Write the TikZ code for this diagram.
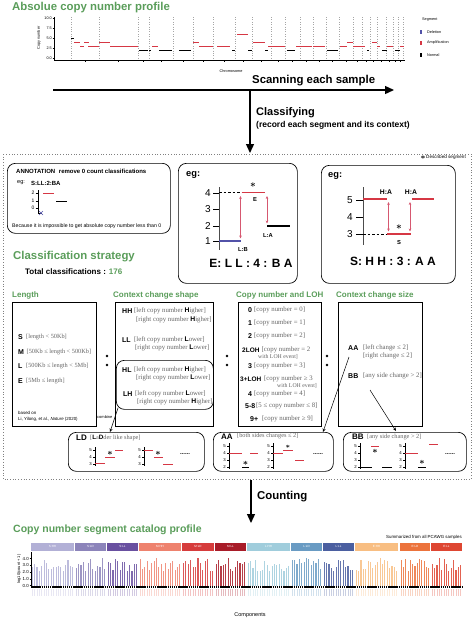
\documentclass[tikz,border=0pt]{standalone}
\usepackage{fontspec}
\setmainfont{Liberation Serif}
\setsansfont{Liberation Sans}
\usetikzlibrary{arrows.meta}
\definecolor{tgreen}{RGB}{90,157,90}
\definecolor{segred}{RGB}{214,55,68}
\definecolor{segblue}{RGB}{82,82,168}
\definecolor{arred}{RGB}{214,88,112}
\definecolor{brgray}{RGB}{100,100,100}
\definecolor{cSH}{RGB}{178,176,214}
\definecolor{cSD}{RGB}{140,132,186}
\definecolor{cSL}{RGB}{105,80,160}
\definecolor{cMH}{RGB}{238,130,110}
\definecolor{cMD}{RGB}{214,60,60}
\definecolor{cML}{RGB}{168,28,40}
\definecolor{cLH}{RGB}{160,205,220}
\definecolor{cLD}{RGB}{105,155,195}
\definecolor{cLL}{RGB}{75,95,160}
\definecolor{cEH}{RGB}{248,190,130}
\definecolor{cED}{RGB}{236,115,60}
\definecolor{cEL}{RGB}{222,70,50}
\newcommand\hb[1]{{\color{black}\sffamily\bfseries #1}}
\newcommand\astm{{\boldmath$\ast$}}
\tikzset{
  ttl/.style={font=\sffamily\bfseries\fontsize{11.4}{13}\selectfont,text=tgreen,anchor=west,inner sep=0pt},
  colhd/.style={font=\sffamily\bfseries\fontsize{8}{9}\selectfont,text=tgreen,anchor=west,inner sep=0pt},
  bigbl/.style={font=\sffamily\bfseries\fontsize{11.4}{13}\selectfont,anchor=west,inner sep=0pt},
  key/.style={font=\sffamily\bfseries\fontsize{7}{8}\selectfont,anchor=west,inner sep=0pt},
  brt/.style={font=\rmfamily\fontsize{6.8}{7}\selectfont,text=brgray,anchor=west,inner sep=0pt},
  brs/.style={font=\rmfamily\fontsize{6.3}{7}\selectfont,text=brgray,anchor=west,inner sep=0pt},
  brc/.style={font=\rmfamily\fontsize{5.8}{7}\selectfont,text=brgray,anchor=west,inner sep=0pt},
  tinyt/.style={font=\sffamily\fontsize{3.8}{4}\selectfont,inner sep=0pt},
  mini/.style={font=\sffamily\fontsize{4.3}{5}\selectfont,inner sep=0pt,anchor=east},
  rbox/.style={draw,rounded corners=8pt,line width=0.7pt,inner sep=0pt},
  sqbox/.style={draw,line width=0.7pt,inner sep=0pt},
  bigarr/.style={line width=1.3pt,-{Triangle[length=9pt,width=8pt]}},
  thinarr/.style={line width=0.5pt,-{Stealth[length=3.5pt,width=3pt]}},
  redarr/.style={arred,line width=0.6pt,{Stealth[length=3pt,width=2.6pt]}-{Stealth[length=3pt,width=2.6pt]}},
  mseg/.style={segred,line width=0.8pt},
  astnode/.style={inner sep=0pt,font=\fontsize{10}{10}\selectfont},
  astmini/.style={inner sep=0pt,font=\fontsize{9}{9}\selectfont},
  egnum/.style={font=\sffamily\fontsize{10}{10}\selectfont,anchor=east,inner sep=0pt},
  smallb/.style={font=\sffamily\bfseries\fontsize{5.8}{6}\selectfont,inner sep=0pt},
  dotsn/.style={font=\sffamily\bfseries\fontsize{6}{6}\selectfont,inner sep=0pt},
}
\begin{document}
\begin{tikzpicture}[x=1pt,y=-1pt]
\useasboundingbox (0,0) rectangle (474,621);

% ---------------- top profile ----------------
\node[ttl] (t1) at (12,8) {Absolue copy number profile};
\foreach \x in {71,99,138,149,173,193,213,235,252,271,285,300,313,326,339,353,362,370,377,386,393,398,403}
  \draw[dotted,gray!70,line width=0.4pt] (\x,17) -- (\x,60);
\draw[line width=0.6pt] (54,17) -- (54,60) -- (405,60);
\foreach \v/\t [count=\k] in {10/10.0,7.5/7.5,5/5.0,2.5/2.5,0/0.0} {
  \draw[line width=0.3pt] (52.5,{58.5-4*\v}) -- (54,{58.5-4*\v});
  \node[tinyt,anchor=east] (ytk\k) at (52,{58.5-4*\v}) {\t};
}
\foreach \x in {85,118,143,161,183,203,224,243,261,278,292,306,319,332,346,357,366,373,381,389,395,400}
  \draw[line width=0.3pt] (\x,60) -- (\x,61.5);
\node[tinyt,rotate=90] (ylab) at (39,38) {Copy number};
\node[tinyt] (xlab) at (231,71) {Chromosome};
\foreach \a/\b/\v/\c in {71/74/5/black,74/80/4/segred,80/84/3/segred,84/89/4/segred,88/99/3/segred,99/110/4/segred,110/138/3/segred,139/148/2/black,149/151/2/black,152/158/3/segred,159/172/2/black,179/191/2/black,193/199/4/segred,199/213/3/segred,217/230/3/segred,232/235/2/black,237/248/6/segred,248/252/2/black,253/265/4/segred,265/268/2/black,268/285/3/segred,287/295/2/black,296/312/3/segred,313/325/3/segred,327/338/2/black,340/347/3/segred,347/353/4/segred,353/365/3/segred,367/369/2/black,372/377/4/segred,377/380/3/segred,382/387/2/black,387/393/3/segred,395/400/2/black,400/404/3/segred}
  \draw[\c,line width=1pt] (\a,{58.5-4*\v}) -- (\b,{58.5-4*\v});
\node[tinyt,anchor=west] (lgT) at (422,20) {Segment};
\draw[segblue,line width=1.3pt] (421,30) -- (421,34);
\draw[segred,line width=1.3pt] (421,41) -- (421,45);
\draw[black,line width=1.3pt] (421,53) -- (421,57);
\node[tinyt,anchor=west] (lgD) at (427,32) {Deletion};
\node[tinyt,anchor=west] (lgA) at (427,43) {Amplification};
\node[tinyt,anchor=west] (lgN) at (427,55) {Normal};

% ---------------- arrows ----------------
\node[bigbl] (scan) at (252,81) {Scanning each sample};
\coordinate (scanL) at (53,90);
\coordinate (scanR) at (394,90);
\draw[bigarr] (scanL) -- (scanR);
\coordinate (clsT) at (250,90);
\coordinate (clsB) at (250,153);
\draw[bigarr] (clsT) -- (clsB);
\node[font=\sffamily\bfseries\fontsize{11}{12}\selectfont,anchor=west,inner sep=0pt] (cls1) at (256,113) {Classifying};
\node[font=\sffamily\bfseries\fontsize{8.5}{9}\selectfont,anchor=west,inner sep=0pt] (cls2) at (256,125) {(record each segment and its context)};

% ---------------- frame ----------------
\draw[dotted,gray,line width=0.7pt] (3,154) rectangle (471,479);
\node[astmini,font=\fontsize{8}{8}\selectfont] (dsst) at (423,157.5) {\astm};
\node[font=\sffamily\fontsize{4.6}{5}\selectfont,anchor=west,inner sep=0pt] (dst) at (426,157.5) {Described segment};

% ---------------- annotation box ----------------
\node[rbox,anchor=north west,minimum width=163pt,minimum height=70pt] (annot) at (7,163) {};
\node[font=\sffamily\bfseries\fontsize{6}{7}\selectfont,anchor=west,inner sep=0pt] (annt) at (16,171) {ANNOTATION\,\, remove 0 count classifications};
\node[font=\sffamily\fontsize{5.5}{6}\selectfont,anchor=west,inner sep=0pt] (anneg) at (17,183) {eg:};
\node[font=\sffamily\bfseries\fontsize{6}{6}\selectfont,anchor=west,inner sep=0pt] (annex) at (31,183) {S:LL:2:BA};
\draw[line width=0.4pt] (38,190) -- (38,213) -- (42,213);
\foreach \t/\y in {2/193,1/201,0/208} {
  \draw[line width=0.4pt] (35.5,\y) -- (38,\y);
  \node[font=\sffamily\fontsize{5}{5}\selectfont,anchor=east,inner sep=0pt] (ann\t) at (34.5,\y) {\t};
}
\draw[segred,line width=0.9pt] (43,193) -- (54,193);
\draw[black,line width=0.9pt] (56,201) -- (67,201);
\draw[segblue,line width=0.5pt] (39,211) -- (43,215) (39,215) -- (43,211);
\node[font=\sffamily\fontsize{5.2}{6}\selectfont,anchor=west,inner sep=0pt] (annb) at (12,226) {Because it is impossible to get absolute copy number less than 0};

% ---------------- eg box 1 ----------------
\node[rbox,anchor=north west,minimum width=119pt,minimum height=120pt] (eg1) at (178,163) {};
\node[font=\sffamily\bfseries\fontsize{9.3}{10}\selectfont,anchor=west,inner sep=0pt] (eg1t) at (186,175) {eg:};
\draw[gray!60!black,line width=0.5pt] (219,187) -- (219,250);
\foreach \v/\y in {4/193,3/209,2/226,1/241} {
  \draw[line width=0.5pt] (213,\y) -- (219,\y);
  \node[egnum] (eg1n\v) at (211,\y) {\v};
}
\draw[dash pattern=on 2.5pt off 2pt,line width=0.6pt] (219,192.5) -- (242,192.5);
\draw[segred,line width=1.7pt] (242,192.5) -- (265,192.5);
\draw[segblue,line width=1.7pt] (219,241) -- (241,241);
\draw[black,line width=1.7pt] (267,226) -- (290,226);
\node[astnode] (eg1s) at (253,185.5) {\astm};
\node[smallb] (eg1E) at (255,199.5) {E};
\node[smallb] (eg1LB) at (243,249.5) {L:B};
\node[smallb] (eg1LA) at (268,236) {L:A};
\coordinate (a1t) at (240.5,196); \coordinate (a1b) at (240.5,238.5);
\coordinate (a2t) at (267,196); \coordinate (a2b) at (267,223.5);
\draw[redarr] (a1t) -- (a1b);
\draw[redarr] (a2t) -- (a2b);
\node[font=\sffamily\bfseries\fontsize{12}{12}\selectfont,inner sep=0pt] (eg1c) at (251,263) {E: L L : 4 : B A};

% ---------------- eg box 2 ----------------
\node[rbox,anchor=north west,minimum width=134pt,minimum height=118pt] (eg2) at (321,165) {};
\node[font=\sffamily\bfseries\fontsize{9.3}{10}\selectfont,anchor=west,inner sep=0pt] (eg2t) at (328,176) {eg:};
\draw[gray!60!black,line width=0.5pt] (363,187) -- (363,245);
\foreach \v/\y in {5/200,4/217,3/234} {
  \draw[line width=0.5pt] (356,\y) -- (363,\y);
  \node[egnum] (eg2n\v) at (353,\y) {\v};
}
\draw[segred,line width=1.7pt] (363,199) -- (387,199);
\draw[segred,line width=1.7pt] (412,199) -- (434,199);
\draw[segred,line width=1.7pt] (387,234) -- (411,234);
\draw[dash pattern=on 2.5pt off 2pt,line width=0.6pt] (363,234) -- (387,234);
\node[font=\sffamily\bfseries\fontsize{6.8}{7}\selectfont,inner sep=0pt] (eg2h1) at (386,192) {H:A};
\node[font=\sffamily\bfseries\fontsize{6.8}{7}\selectfont,inner sep=0pt] (eg2h2) at (411,192) {H:A};
\node[astnode] (eg2s) at (399,227.5) {\astm};
\node[smallb] (eg2S) at (399,243) {S};
\coordinate (b1t) at (388.5,202); \coordinate (b1b) at (388.5,231.5);
\coordinate (b2t) at (410,202); \coordinate (b2b) at (410,231.5);
\draw[redarr] (b1t) -- (b1b);
\draw[redarr] (b2t) -- (b2b);
\node[font=\sffamily\bfseries\fontsize{12}{12}\selectfont,inner sep=0pt] (eg2c) at (393,261) {S: H H : 3 : A A};

% ---------------- strategy ----------------
\node[ttl] (cst) at (13,257) {Classification strategy};
\node[font=\sffamily\bfseries\fontsize{8}{9}\selectfont,anchor=west,inner sep=0pt] (tot) at (25,272) {Total classifications : \textcolor{tgreen}{176}};
\node[colhd] (hLen) at (12,295) {Length};
\node[colhd] (hShp) at (113,295) {Context change shape};
\node[colhd] (hCn) at (236,295) {Copy number and LOH};
\node[colhd] (hSz) at (336,295) {Context change size};

% Length
\node[sqbox,anchor=north west,minimum width=84pt,minimum height=124pt] (lenbox) at (12,302) {};
\node[key] (kS) at (18,337) {S};  \node[brs] (bS) at (26,337) {[length < 50Kb]};
\node[key] (kM) at (18,352) {M};  \node[brs] (bM) at (26.5,352) {[50Kb ≤ length < 500Kb]};
\node[key] (kL) at (18,366) {L};  \node[brs] (bL) at (26,366) {[500Kb ≤ length < 5Mb]};
\node[key] (kE) at (18,381) {E};  \node[brs] (bE) at (26,381) {[5Mb ≤ length]};
\node[font=\sffamily\fontsize{4.4}{5}\selectfont,anchor=west,inner sep=0pt] (ref1) at (18,412.5) {based on};
\node[font=\sffamily\fontsize{4.4}{5}\selectfont,anchor=west,inner sep=0pt] (ref2) at (18,419) {Li, Yilong, et al., \textit{Nature} (2020)};

% Shape
\node[sqbox,anchor=north west,minimum width=98pt,minimum height=124pt] (shpbox) at (115,302) {};
\node[key] (kHH) at (122,311) {HH};
\node[brt] (bHH1) at (134,311) {[left copy number \hb{H}igher]};
\node[brt] (bHH2) at (136,320) {[right copy number \hb{H}igher]};
\node[key] (kLL) at (122,340) {LL};
\node[brt] (bLL1) at (134,340) {[left copy number \hb{L}ower]};
\node[brt] (bLL2) at (135,348) {[right copy number \hb{L}ower]};
\node[rbox,anchor=north west,minimum width=97pt,minimum height=49pt] (hlbox) at (116,360) {};
\node[key] (kHL) at (122,370) {HL};
\node[brt] (bHL1) at (134,370) {[left copy number \hb{H}igher]};
\node[brt] (bHL2) at (136,378) {[right copy number \hb{L}ower]};
\node[key] (kLH) at (123,394) {LH};
\node[brt] (bLH1) at (135,394) {[left copy number \hb{L}ower]};
\node[brt] (bLH2) at (137,402) {[right copy number \hb{H}igher]};
\node[font=\sffamily\fontsize{4}{5}\selectfont,anchor=west,inner sep=0pt] (comb) at (97,417) {combine};

% Copy number
\node[sqbox,anchor=north west,minimum width=83pt,minimum height=124pt] (cnbox) at (238,302) {};
\node[key] (k0) at (248,310) {0};  \node[brt] (b0) at (254,310) {[copy number = 0]};
\node[key] (k1) at (248,323) {1};  \node[brt] (b1) at (254,323) {[copy number = 1]};
\node[key] (k2) at (248,336) {2};  \node[brt] (b2) at (254,336) {[copy number = 2]};
\node[key,font=\sffamily\bfseries\fontsize{6.5}{7}\selectfont] (k2L) at (242,350) {2LOH}; \node[brt] (b2L) at (261.5,350) {[copy number = 2};
\node[brc] (b2Lb) at (258,357) {with LOH event]};
\node[key] (k3) at (248,366) {3};  \node[brt] (b3) at (254,366) {[copy number = 3]};
\node[key,font=\sffamily\bfseries\fontsize{6.5}{7}\selectfont] (k3L) at (240,379) {3+LOH}; \node[brt] (b3L) at (264,379) {[copy number ≥ 3};
\node[brc] (b3Lb) at (277,386) {with LOH event]};
\node[key] (k4) at (248,394) {4};  \node[brt] (b4) at (254,394) {[copy number = 4]};
\node[key] (k58) at (245,406) {5-8}; \node[brt] (b58) at (256,406) {[5 ≤ copy number ≤ 8]};
\node[key] (k9) at (250,419) {9+}; \node[brt] (b9) at (262,419) {[copy number ≥ 9]};

% Size
\node[sqbox,anchor=north west,minimum width=84pt,minimum height=124pt] (szbox) at (338,302) {};
\node[key] (kAA) at (348,348) {AA};
\node[brt] (bAA1) at (363,348) {[left change ≤ 2]};
\node[brt] (bAA2) at (363,356) {[right change ≤ 2]};
\node[key] (kBB) at (348,376) {BB};
\node[brt] (bBB) at (363,376) {[any side change > 2]};

% colon dots
\foreach \x in {107,227,327} {
  \fill (\x,356) circle (1.3);
  \fill (\x,365) circle (1.3);
}

% ---------------- bottom boxes ----------------
\node[rbox,anchor=north west,minimum width=136pt,minimum height=39pt] (ldbox) at (68,432) {};
\node[rbox,anchor=north west,minimum width=120pt,minimum height=39pt] (aabox) at (213,432) {};
\node[rbox,anchor=north west,minimum width=123pt,minimum height=39pt] (bbbox) at (343,432) {};

\coordinate (combS) at (118,408);
\coordinate (combE) at (110,432);
\draw[thinarr] (combS) -- (combE);
\coordinate (aaS) at (349,357);
\coordinate (aaE) at (323,432);
\draw[thinarr] (aaS) -- (aaE);
\coordinate (bbS) at (370,390);
\coordinate (bbE) at (396,431);
\draw[thinarr] (bbS) -- (bbE);

\node[font=\sffamily\bfseries\fontsize{8}{8}\selectfont,anchor=west,inner sep=0pt] (kLD) at (76,438) {LD};
\node[brs] (bLD) at (90,438) {[\hb{L}a\hb{D}der like shape]};
\node[font=\sffamily\bfseries\fontsize{8}{8}\selectfont,anchor=west,inner sep=0pt] (kAA2) at (221,437) {AA};
\node[brs] (bAA3) at (237,436) {[both sides changes ≤ 2]};
\node[font=\sffamily\bfseries\fontsize{8}{8}\selectfont,anchor=west,inner sep=0pt] (kBB2) at (352,437) {BB};
\node[brs] (bBB2) at (367,437) {[any side change > 2]};

% LD mini charts
\foreach \ax [count=\j] in {95,144} {
  \draw[line width=0.4pt] (\ax,447) -- (\ax,466);
  \foreach \t/\y in {5/450,4/457,3/464} {
    \draw[line width=0.4pt] (\ax-2,\y) -- (\ax,\y);
    \node[mini] (ld\j n\t) at (\ax-3,\y) {\t};
  }
}
\draw[mseg] (95,463.5) -- (105,463.5);
\draw[mseg] (105,457) -- (115,457);
\draw[mseg] (115,450) -- (123,450);
\node[astmini] (ld1s) at (110,453) {\astm};
\draw[mseg] (144,450) -- (153,450);
\draw[mseg] (154,457) -- (163,457);
\draw[mseg] (163,464) -- (173,464);
\node[astmini] (ld2s) at (158,453) {\astm};
\node[dotsn] (ld3) at (185,454) {......};

% AA mini charts
\foreach \ax [count=\j] in {229,273} {
  \draw[line width=0.4pt] (\ax,443) -- (\ax,469);
  \foreach \t/\y in {5/446,4/453,3/460,2/467} {
    \draw[line width=0.4pt] (\ax-2,\y) -- (\ax,\y);
    \node[mini] (aa\j n\t) at (\ax-3,\y) {\t};
  }
}
\draw[mseg] (229,453) -- (242,453);
\draw[black,line width=0.8pt] (242,467) -- (249,467);
\draw[mseg] (250,453) -- (258,453);
\node[astmini] (aa1s) at (245.5,463) {\astm};
\draw[mseg] (273,453) -- (283,453);
\draw[mseg] (283,450.5) -- (293,450.5);
\node[inner sep=0pt,font=\fontsize{7.5}{7.5}\selectfont] (aa2s) at (288,448) {\smash{\astm}};
\draw[mseg] (295,460) -- (304,460);
\node[dotsn] (aa3) at (318,454) {......};

% BB mini charts
\foreach \ax [count=\j] in {360,405} {
  \draw[line width=0.4pt] (\ax,443) -- (\ax,469);
  \foreach \t/\y in {5/446,4/453,3/460,2/467} {
    \draw[line width=0.4pt] (\ax-2,\y) -- (\ax,\y);
    \node[mini] (bb\j n\t) at (\ax-3,\y) {\t};
  }
}
\draw[black,line width=0.8pt] (360,467) -- (372,467);
\draw[mseg] (371,446) -- (379,446);
\node[astmini] (bb1s) at (375,451.5) {\astm};
\draw[black,line width=0.8pt] (382,467) -- (392,467);
\draw[mseg] (405,453) -- (418,453);
\draw[black,line width=0.8pt] (418,467) -- (426,467);
\node[astmini] (bb2s) at (422,462.5) {\astm};
\draw[mseg] (429,444) -- (438,444);
\node[dotsn] (bb3) at (450,454) {......};

% ---------------- counting ----------------
\coordinate (cntT) at (251,480);
\coordinate (cntB) at (251,523);
\draw[bigarr] (cntT) -- (cntB);
\node[bigbl] (cnt) at (257,497) {Counting};

% ---------------- catalog profile ----------------
\node[ttl,font=\sffamily\bfseries\fontsize{10.5}{12}\selectfont] (cat) at (13,530) {Copy number segment catalog profile};
\node[font=\sffamily\fontsize{4.4}{5}\selectfont,anchor=east,inner sep=0pt] (summ) at (462,537) {Summarized from all PCAWG samples};
\foreach \a/\b/\lab/\c [count=\k] in {31/74/S:HH/cSH,75/106/S:LD/cSD,107/138/S:LL/cSL,139/181/M:HH/cMH,182/214/M:LD/cMD,215/246/M:LL/cML,247/290/L:HH/cLH,291/322/L:LD/cLD,323/354/L:LL/cLL,355/398/E:HH/cEH,400/430/E:LD/cED,431/462/E:LL/cEL} {
  \fill[fill=\c] (\a,543) rectangle (\b,550.5);
  \node[font=\sffamily\fontsize{3}{3}\selectfont,text=white,inner sep=0pt] (hd\k) at ({(\a+\b)/2},546.8) {\lab};
}
\pgfmathsetseed{4242}
\foreach \a/\b/\n/\c in {31/74/18/cSH,75/106/13/cSD,107/138/13/cSL,139/181/18/cMH,182/214/13/cMD,215/246/13/cML,247/290/18/cLH,291/322/13/cLD,323/354/13/cLL,355/398/18/cEH,400/430/13/cED,431/462/13/cEL} {
  \foreach \i in {1,...,\n} {
    \pgfmathsetmacro\bx{\a+(\i-0.5)*(\b-\a)/\n}
    \pgfmathsetmacro\bh{2.1+2.0*rnd}
    \draw[draw=\c,line width=1.1pt,opacity=0.85] (\bx,585.5) -- (\bx,{585.5-6.75*\bh});
    \draw[draw=\c,line width=0.9pt,opacity=0.3] (\bx,589) -- (\bx,596);
  }
}
\draw[line width=0.5pt] (31,552) -- (31,586);
\foreach \v [count=\k] in {0,1,2,3,4} {
  \draw[line width=0.3pt] (29.5,{585.5-6.75*\v}) -- (31,{585.5-6.75*\v});
  \node[font=\sffamily\fontsize{4.4}{5}\selectfont,anchor=east,inner sep=0pt] (bytk\k) at (29,{585.5-6.75*\v}) {\v.0};
}
\node[font=\sffamily\fontsize{4}{5}\selectfont,rotate=90,inner sep=0pt] (bylab) at (19,569) {log10(count + 1)};
\draw[line width=1.3pt,dash pattern=on 1.5pt off 0.6pt] (31,587) -- (463,587);
\node[font=\sffamily\fontsize{5.5}{6}\selectfont,inner sep=0pt] (comp) at (250,615) {Components};
\end{tikzpicture}
\end{document}
